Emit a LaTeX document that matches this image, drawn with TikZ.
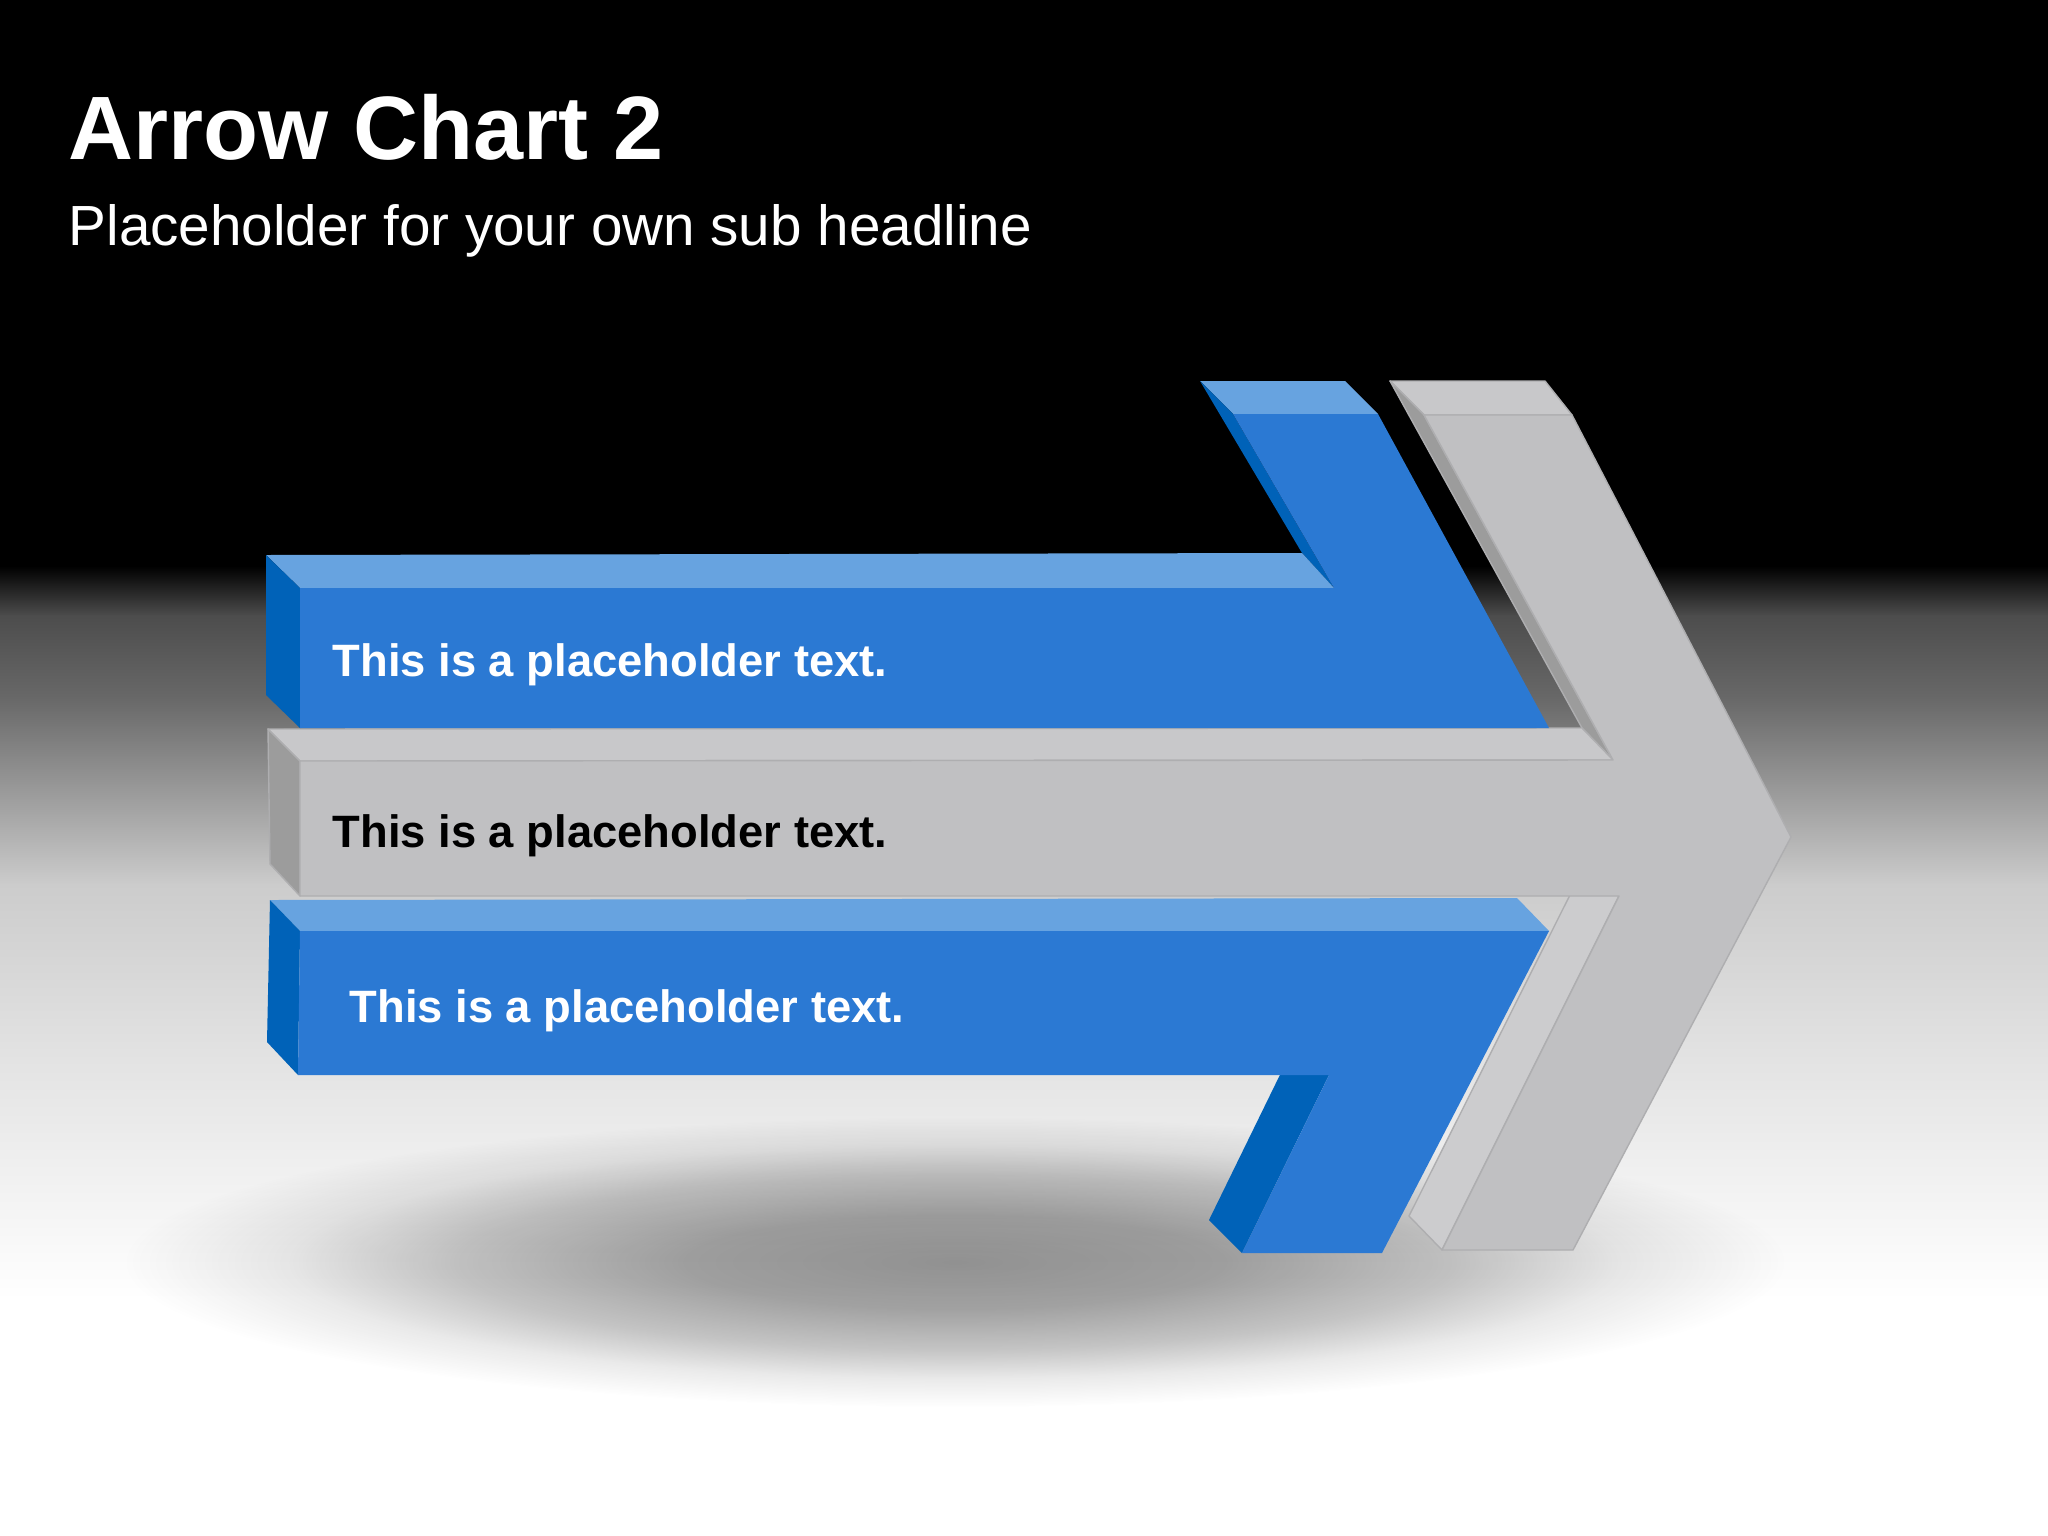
\documentclass[tikz,border=0pt]{standalone}
\usepackage{fontspec}
\setmainfont{Liberation Sans}
\usetikzlibrary{fadings}

\definecolor{arrowblue}{HTML}{2B79D3}
\definecolor{arrowbluetop}{HTML}{67A3E0}
\definecolor{arrowblueside}{HTML}{0062B8}
\definecolor{chevgrey}{HTML}{C0C0C2}
\definecolor{chevgreytop}{HTML}{C8C8CA}
\definecolor{chevgreyside}{HTML}{9C9C9C}
\definecolor{chevgreylight}{HTML}{CCCCCE}
\definecolor{chevgreyedge}{HTML}{AEAEB0}

\pgfdeclareradialshading{shadowdisc}{\pgfpointorigin}{color(0bp)=(white); color(8bp)=(white!88!black); color(15bp)=(white!55!black); color(20bp)=(white!20!black); color(25bp)=(black); color(50bp)=(black)}
\pgfdeclarefading{shadowfade}{\pgfuseshading{shadowdisc}}

\tikzset{
  bluefrontface/.style={fill=arrowblue},
  bluetopface/.style={fill=arrowbluetop},
  bluesideface/.style={fill=arrowblueside},
  greyfrontface/.style={fill=chevgrey, draw=chevgreyedge, line width=0.4pt, line join=round},
  greytopface/.style={fill=chevgreytop, draw=chevgreyedge, line width=0.4pt, line join=round},
  greysideface/.style={fill=chevgreyside, draw=chevgreyedge, line width=0.4pt, line join=round},
  greylightface/.style={fill=chevgreylight, draw=chevgreyedge, line width=0.4pt, line join=round},
  titletext/.style={text=white, inner sep=0pt, font=\fontsize{25.6}{30}\selectfont\bfseries},
  subtext/.style={text=white, inner sep=0pt, font=\fontsize{16.1}{19}\selectfont},
  bartext/.style={text=white, inner sep=0pt, font=\fontsize{12.9}{15}\selectfont\bfseries}
}

\begin{document}
\begin{tikzpicture}[x=0.01cm, y=-0.01cm]
    \useasboundingbox (0,0) rectangle (2048,1536);

    \fill[black] (0,0) rectangle (2048,567);
    \shade[top color=black, bottom color=black!70] (0,566) rectangle (2048,616);
    \shade[top color=black!70, bottom color=black!59] (0,615) rectangle (2048,700);
    \shade[top color=black!59, bottom color=black!20] (0,699) rectangle (2048,885);
    \shade[top color=black!20, bottom color=black!11] (0,884) rectangle (2048,1060);
    \shade[top color=black!11, bottom color=white] (0,1059) rectangle (2048,1300);
    \fill[white] (0,1299) rectangle (2048,1536);

    \fill[black, opacity=0.42, path fading=shadowfade] (955,1262) ellipse [x radius=8.3cm, y radius=1.45cm];

    \filldraw[greytopface] (1390,381) -- (1545,381) -- (1572,415) -- (1424,415) -- cycle;
    \filldraw[greysideface] (1390,381) -- (1424,415) -- (1613,760) -- (1582,728) -- cycle;
    \filldraw[greytopface] (268,729) -- (1582,728) -- (1613,760) -- (300,761) -- cycle;
    \filldraw[greysideface] (268,729) -- (300,761) -- (300,896) -- (270,864) -- cycle;
    \filldraw[greylightface] (1586,863) -- (1619,896) -- (1442,1250) -- (1409,1216) -- cycle;
    \filldraw[greyfrontface] (300,761) -- (1613,760) -- (1424,415) -- (1572,415) -- (1791,837)
        -- (1573,1250) -- (1442,1250) -- (1619,896) -- (300,896) -- cycle;

    \fill[bluetopface] (1200,381) -- (1345,381) -- (1378,414) -- (1233,414) -- cycle;
    \fill[bluesideface] (1200,381) -- (1233,414) -- (1334,588) -- (1302,553) -- cycle;
    \fill[bluetopface] (266,555) -- (1302,553) -- (1334,588) -- (300,588) -- cycle;
    \fill[bluesideface] (266,555) -- (300,588) -- (300,728) -- (266,695) -- cycle;
    \fill[bluefrontface] (300,588) -- (1334,588) -- (1233,414) -- (1378,414) -- (1549,728) -- (300,728) -- cycle;

    \fill[bluetopface] (270,900) -- (1517,898) -- (1549,931) -- (300,931) -- cycle;
    \fill[bluesideface] (270,900) -- (300,931) -- (298,1075) -- (267,1042) -- cycle;
    \fill[bluesideface] (1296,1042) -- (1329,1075) -- (1242,1253) -- (1209,1220) -- cycle;
    \fill[bluefrontface] (300,931) -- (1549,931) -- (1382,1253) -- (1242,1253) -- (1329,1075) -- (298,1075) -- cycle;

    \node[titletext, anchor=base west] (title) at (68,159) {Arrow Chart 2};
    \node[subtext, anchor=base west] (subtitle) at (68,245) {Placeholder for your own sub headline};
    \node[bartext, anchor=base west] (label1) at (332,676) {This is a placeholder text.};
    \node[bartext, text=black, anchor=base west] (label2) at (332,847) {This is a placeholder text.};
    \node[bartext, anchor=base west] (label3) at (349,1022) {This is a placeholder text.};
\end{tikzpicture}
\end{document}
